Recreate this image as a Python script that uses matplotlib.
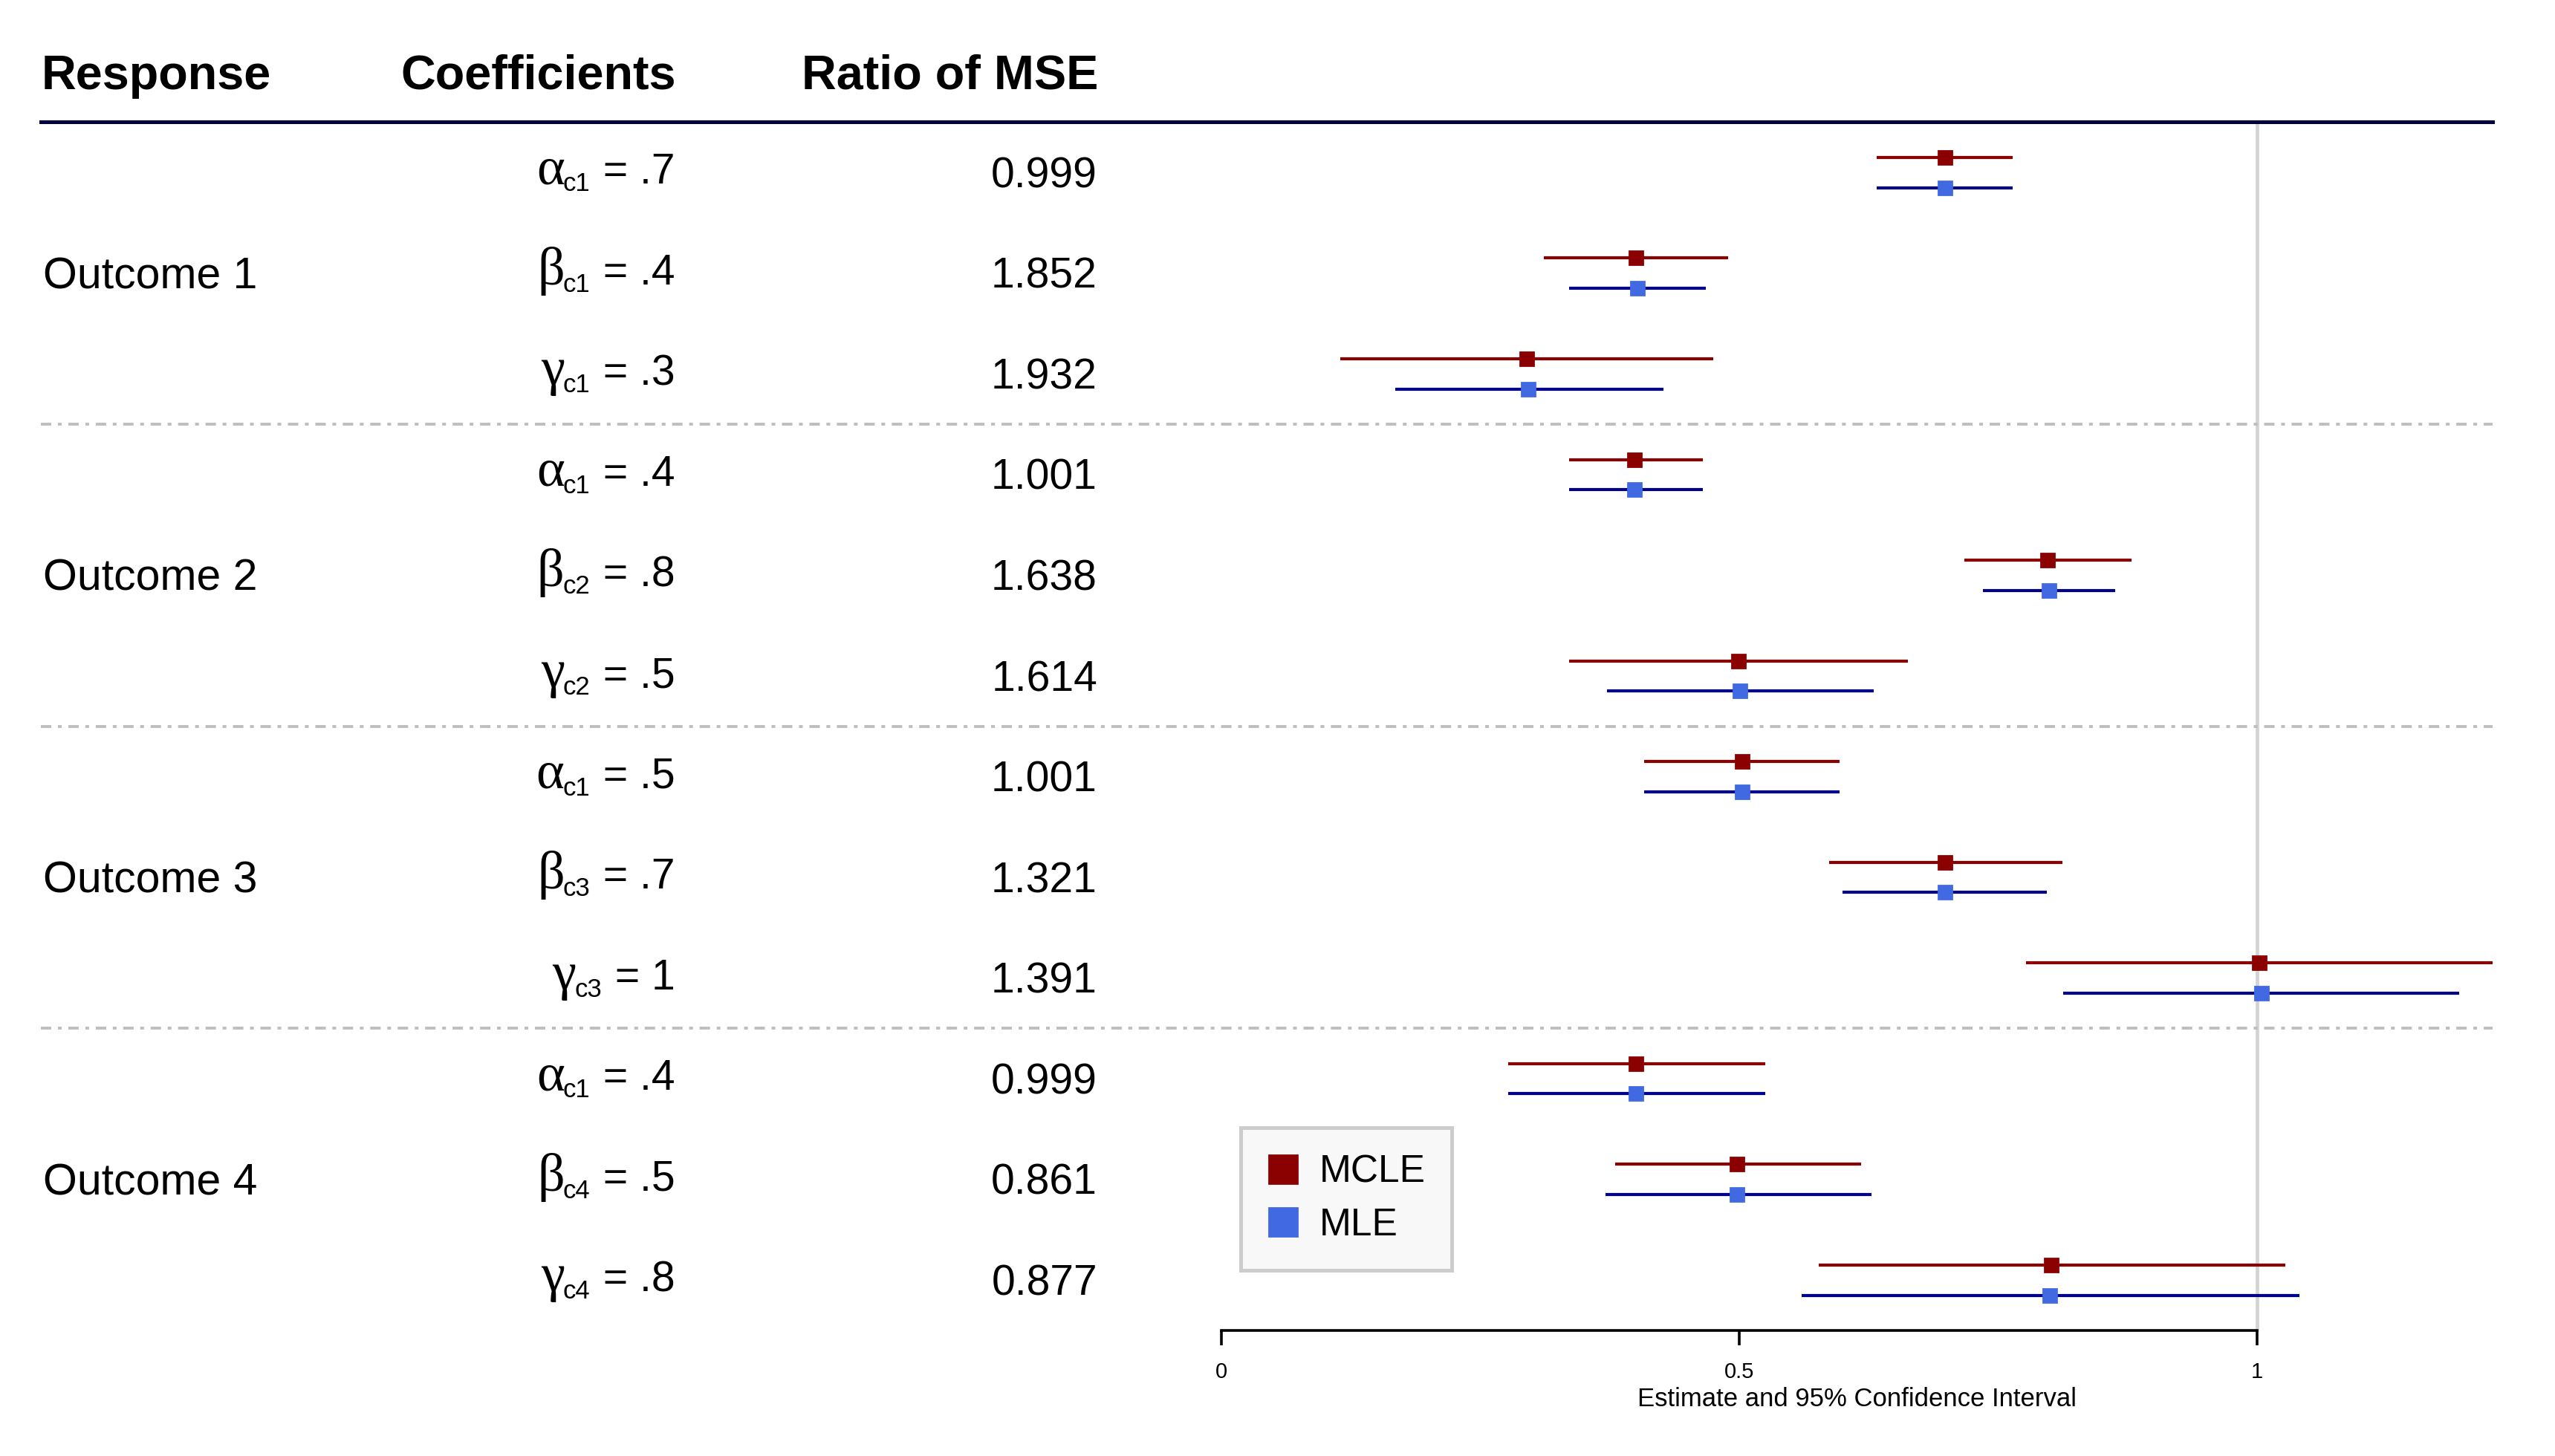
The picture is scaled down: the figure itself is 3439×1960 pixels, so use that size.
import numpy as np
import matplotlib
matplotlib.use("Agg")
import matplotlib.pyplot as plt
import matplotlib.transforms as mtransforms
from matplotlib.lines import Line2D

plt.rcParams['font.family'] = ['Liberation Sans', 'DejaVu Sans']

# data
responses = ["Outcome 1", "Outcome 2", "Outcome 3", "Outcome 4"]
coef_greek = ["α", "β", "γ", "α", "β", "γ", "α", "β", "γ", "α", "β", "γ"]
coef_sub = ["c1", "c1", "c1", "c1", "c2", "c2", "c1", "c3", "c3", "c1", "c4", "c4"]
coef_value = [".7", ".4", ".3", ".4", ".8", ".5", ".5", ".7", "1", ".4", ".5", ".8"]
mse_ratio = ["0.999", "1.852", "1.932", "1.001", "1.638", "1.614",
             "1.001", "1.321", "1.391", "0.999", "0.861", "0.877"]

mcle_est = [0.699, 0.400, 0.295, 0.399, 0.798, 0.499, 0.503, 0.699, 1.002, 0.400, 0.498, 0.801]
mcle_lo = [0.633, 0.311, 0.115, 0.336, 0.717, 0.336, 0.408, 0.587, 0.777, 0.277, 0.380, 0.577]
mcle_hi = [0.764, 0.489, 0.475, 0.465, 0.879, 0.663, 0.597, 0.812, 1.250, 0.525, 0.618, 1.027]

mle_est = [0.699, 0.402, 0.296, 0.399, 0.799, 0.501, 0.503, 0.699, 1.004, 0.400, 0.498, 0.800]
mle_lo = [0.633, 0.336, 0.168, 0.336, 0.735, 0.372, 0.408, 0.600, 0.813, 0.277, 0.371, 0.560]
mle_hi = [0.764, 0.468, 0.427, 0.465, 0.863, 0.630, 0.597, 0.797, 1.195, 0.525, 0.628, 1.041]

W, H, DPI = 3439, 1960, 200
col_mcle = "#8B0000"
col_mle_line = "#00008B"
col_mle_pt = "#4169E1"

fig = plt.figure(figsize=(W / DPI, H / DPI), dpi=DPI)
ax = fig.add_axes([1644 / W, 1 - 1791 / H, (3355 - 1644) / W, (1791 - 164.5) / H])

rows = np.arange(len(mse_ratio))
off = 0.15

ax.axvline(1, color="#D3D3D3", lw=1.7, zorder=0.5)
ax.hlines(rows - off, mcle_lo, mcle_hi, color=col_mcle, lw=1.5, zorder=2)
ax.plot(mcle_est, rows - off, "s", ms=6.2, color=col_mcle, mec=col_mcle, zorder=3)
ax.hlines(rows + off, mle_lo, mle_hi, color=col_mle_line, lw=1.5, zorder=2)
ax.plot(mle_est, rows + off, "s", ms=6.2, color=col_mle_pt, mec=col_mle_pt, zorder=3)

ax.set_xlim(0, 1.2274)
ax.set_ylim(11.5, -0.5)
for s in ["left", "top", "right"]:
    ax.spines[s].set_visible(False)
ax.spines["bottom"].set_bounds(0, 1)
ax.spines["bottom"].set_linewidth(1.3)
ax.set_yticks([])
ax.set_xticks([0, 0.5, 1])
ax.set_xticklabels(["0", "0.5", "1"])
ax.tick_params(axis="x", length=7.2, width=1.3, pad=8, labelsize=10.5)
fig.text(2499.5 / W, 1 - 1893 / H, "Estimate and 95% Confidence Interval",
         ha="center", va="baseline", fontsize=12.5)

tr = mtransforms.blended_transform_factory(fig.transFigure, ax.transData)
ident = mtransforms.IdentityTransform()

# header
hy = 1 - 120 / H
fig.text(56 / W, hy, "Response", ha="left", va="baseline", fontsize=23.3, fontweight="bold")
fig.text(910 / W, hy, "Coefficients", ha="right", va="baseline", fontsize=23.3, fontweight="bold")
fig.text(1478 / W, hy, "Ratio of MSE", ha="right", va="baseline", fontsize=23.3, fontweight="bold")
fig.add_artist(Line2D([55 / W, 3355 / W], [1 - 164.5 / H] * 2, transform=fig.transFigure,
                      color="#000040", lw=1.8))

# group separators
for g in range(1, len(responses)):
    y = g * 3 - 0.5
    fig.add_artist(Line2D([55 / W, 3355 / W], [y, y], transform=tr, color="#BEBEBE",
                          lw=1.4, linestyle=(0, (3.6, 2.3, 1.3, 2.3))))

for g, name in enumerate(responses):
    fig.text(58 / W, g * 3 + 1 + 0.151, name, transform=tr, ha="left", va="baseline", fontsize=21.2)

renderer = fig.canvas.get_renderer()
for i in rows:
    fig.text(1477 / W, i + 0.148, mse_ratio[i], transform=tr, ha="right", va="baseline", fontsize=20.5)
    yb = i + 0.111
    t = fig.text(909 / W, yb, " = " + coef_value[i], transform=tr, ha="right", va="baseline",
                 fontsize=20.5)
    bb = t.get_window_extent(renderer)
    ybase = tr.transform((0, yb))[1]
    sub = fig.text(bb.x0 - 2, ybase - 10, coef_sub[i], transform=ident, ha="right", va="baseline",
                   fontsize=12.5)
    sb = sub.get_window_extent(renderer)
    fig.text(sb.x0 + 2, ybase, coef_greek[i], transform=ident, ha="right", va="baseline",
             fontsize=26, family=["Liberation Serif", "DejaVu Serif"])

handles = [Line2D([], [], ls="none", marker="s", ms=14, color=col_mcle, label="MCLE"),
           Line2D([], [], ls="none", marker="s", ms=14, color=col_mle_pt, label="MLE")]
leg = fig.legend(handles=handles, loc="upper left", bbox_to_anchor=(1670 / W, 1 - 1518 / H),
                 bbox_transform=fig.transFigure, borderaxespad=0, fontsize=18.5,
                 borderpad=0.7, handlelength=0.8, handletextpad=0.55, labelspacing=0.42,
                 fancybox=False, framealpha=1, facecolor="#F8F8F8", edgecolor="#CCCCCC")
leg.get_frame().set_linewidth(1.8)

fig.savefig("out.png", dpi=DPI)
